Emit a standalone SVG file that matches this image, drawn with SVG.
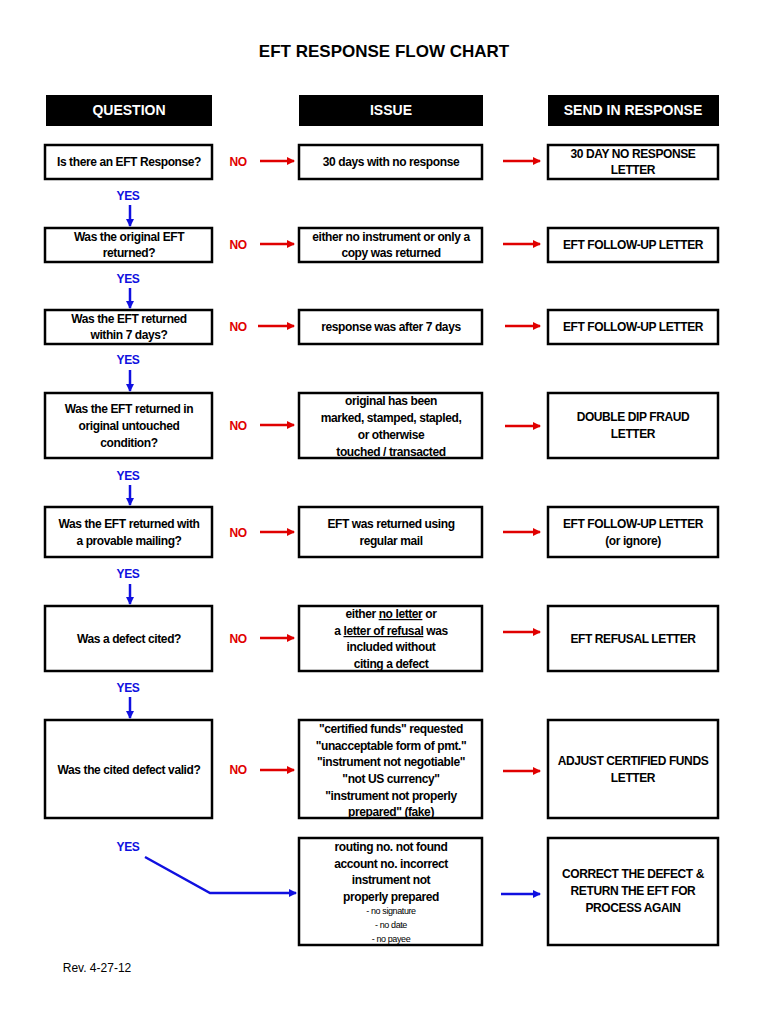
<svg xmlns="http://www.w3.org/2000/svg" width="768" height="1024" viewBox="0 0 768 1024">
<style>
text{font-family:"Liberation Sans",Arial,sans-serif;font-weight:bold;font-size:12px;text-anchor:middle;letter-spacing:-0.4px}
.box{fill:#fff;stroke:#000;stroke-width:2.5}
.hd{fill:#000}
.ht{fill:#fff;font-size:14px;letter-spacing:0}
.no{fill:#e00000}
.yes{fill:#1010e0}
.r{stroke:#e00000;stroke-width:2.5;fill:none;marker-end:url(#ar)}
.b{stroke:#1010e0;stroke-width:2.5;fill:none;marker-end:url(#ab)}
.sm{font-size:9px;font-weight:normal}
</style>
<defs>
<marker id="ar" markerWidth="8" markerHeight="8" refX="7" refY="4" orient="auto" markerUnits="userSpaceOnUse" viewBox="0 0 8 8"><path d="M0,0 L8,4 L0,8 z" fill="#e00000"/></marker>
<marker id="ab" markerWidth="8" markerHeight="8" refX="7" refY="4" orient="auto" markerUnits="userSpaceOnUse" viewBox="0 0 8 8"><path d="M0,0 L8,4 L0,8 z" fill="#1010e0"/></marker>
</defs>
<text x="384" y="57" style="font-size:17px;letter-spacing:0">EFT RESPONSE FLOW CHART</text>
<g id="headers">
<rect class="hd" x="46" y="95" width="166" height="31"/><text class="ht" x="129" y="115">QUESTION</text>
<rect class="hd" x="299" y="95" width="184" height="31"/><text class="ht" x="391" y="115">ISSUE</text>
<rect class="hd" x="548" y="95" width="171" height="31"/><text class="ht" x="633" y="115">SEND IN RESPONSE</text>
</g>
<g id="q1"><rect class="box" x="45" y="145" width="167" height="34"/><text x="129" y="166">Is there an EFT Response?</text></g>
<g id="i1"><rect class="box" x="299" y="145" width="183" height="34"/><text x="391" y="166">30 days  with no response</text></g>
<g id="s1"><rect class="box" x="548" y="145" width="170" height="34"/><text x="633" y="158">30 DAY NO RESPONSE</text><text x="633" y="174">LETTER</text></g>
<g id="q2"><rect class="box" x="45" y="228" width="167" height="34"/><text x="129" y="241">Was the original EFT</text><text x="129" y="257">returned?</text></g>
<g id="i2"><rect class="box" x="299" y="228" width="183" height="34"/><text x="391" y="241">either no instrument or only a</text><text x="391" y="257">copy was returned</text></g>
<g id="s2"><rect class="box" x="548" y="228" width="170" height="34"/><text x="633" y="249">EFT FOLLOW-UP LETTER</text></g>
<g id="q3"><rect class="box" x="45" y="310" width="167" height="34"/><text x="129" y="323">Was the EFT returned</text><text x="129" y="339">within 7 days?</text></g>
<g id="i3"><rect class="box" x="299" y="310" width="183" height="34"/><text x="391" y="331">response was after 7 days</text></g>
<g id="s3"><rect class="box" x="548" y="310" width="170" height="34"/><text x="633" y="331">EFT FOLLOW-UP LETTER</text></g>
<g id="q4"><rect class="box" x="45" y="393" width="167" height="65"/><text x="129" y="413">Was the EFT returned in</text><text x="129" y="430">original untouched</text><text x="129" y="447">condition?</text></g>
<g id="i4"><rect class="box" x="299" y="393" width="183" height="65"/><text x="391" y="405">original has been</text><text x="391" y="422">marked, stamped, stapled,</text><text x="391" y="439">or otherwise</text><text x="391" y="456">touched / transacted</text></g>
<g id="s4"><rect class="box" x="548" y="393" width="170" height="65"/><text x="633" y="421">DOUBLE DIP FRAUD</text><text x="633" y="438">LETTER</text></g>
<g id="q5"><rect class="box" x="45" y="507" width="167" height="50"/><text x="129" y="528">Was the EFT returned with</text><text x="129" y="545">a provable mailing?</text></g>
<g id="i5"><rect class="box" x="299" y="507" width="183" height="50"/><text x="391" y="528">EFT was returned using</text><text x="391" y="545">regular mail</text></g>
<g id="s5"><rect class="box" x="548" y="507" width="170" height="50"/><text x="633" y="528">EFT FOLLOW-UP LETTER</text><text x="633" y="545">(or ignore)</text></g>
<g id="q6"><rect class="box" x="45" y="606" width="167" height="65"/><text x="129" y="643">Was a defect cited?</text></g>
<g id="i6"><rect class="box" x="299" y="606" width="183" height="65"/><text x="391" y="618">either <tspan text-decoration="underline">no letter</tspan> or</text><text x="391" y="635">a <tspan text-decoration="underline">letter of refusal</tspan> was</text><text x="391" y="651">included without</text><text x="391" y="668">citing a defect</text></g>
<g id="s6"><rect class="box" x="548" y="606" width="170" height="65"/><text x="633" y="643">EFT REFUSAL LETTER</text></g>
<g id="q7"><rect class="box" x="45" y="720" width="167" height="98"/><text x="129" y="774">Was the cited defect valid?</text></g>
<g id="i7"><rect class="box" x="299" y="720" width="183" height="98"/><text x="391" y="733">"certified funds" requested</text><text x="391" y="750">"unacceptable form of pmt."</text><text x="391" y="766">"instrument not negotiable"</text><text x="391" y="783">"not US currency"</text><text x="391" y="800">"instrument not properly</text><text x="391" y="816">prepared" (fake)</text></g>
<g id="s7"><rect class="box" x="548" y="720" width="170" height="98"/><text x="633" y="765">ADJUST CERTIFIED FUNDS</text><text x="633" y="782">LETTER</text></g>
<g id="i8"><rect class="box" x="299" y="838" width="183" height="107"/><text x="391" y="851">routing no. not found</text><text x="391" y="868">account no. incorrect</text><text x="391" y="884">instrument not</text><text x="391" y="901">properly prepared</text><text class="sm" x="391" y="914">- no signature</text><text class="sm" x="391" y="928">- no date</text><text class="sm" x="391" y="942">- no payee</text></g>
<g id="s8"><rect class="box" x="548" y="838" width="170" height="107"/><text x="633" y="878">CORRECT THE DEFECT &amp;</text><text x="633" y="895">RETURN THE EFT FOR</text><text x="633" y="912">PROCESS AGAIN</text></g>
<g id="connectors">
<g class="no"><text x="238" y="166">NO</text><text x="238" y="249">NO</text><text x="238" y="331">NO</text><text x="238" y="430">NO</text><text x="238" y="537">NO</text><text x="238" y="643">NO</text><text x="238" y="774">NO</text></g>
<g class="yes"><text x="128" y="200">YES</text><text x="128" y="283">YES</text><text x="128" y="364">YES</text><text x="128" y="480">YES</text><text x="128" y="578">YES</text><text x="128" y="692">YES</text><text x="128" y="851">YES</text></g>
<path class="r" d="M260,161H294"/><path class="r" d="M503,161H540"/>
<path class="r" d="M260,244H294"/><path class="r" d="M503,244H540"/>
<path class="r" d="M258,326H294"/><path class="r" d="M505,326H540"/>
<path class="r" d="M260,425H294"/><path class="r" d="M505,426H540"/>
<path class="r" d="M260,532H294"/><path class="r" d="M503,532H540"/>
<path class="r" d="M260,638H294"/><path class="r" d="M503,632H540"/>
<path class="r" d="M260,770H294"/><path class="r" d="M503,771H540"/>
<path class="b" d="M130,205V226"/><path class="b" d="M130,288V308"/><path class="b" d="M130,370V391"/><path class="b" d="M130,485V505"/><path class="b" d="M130,584V604"/><path class="b" d="M130,697V718"/>
<path class="b" d="M145,857L210,893H296"/><path class="b" d="M501,894H540"/>
</g>
<text x="97" y="972" style="font-weight:normal;font-size:12px;letter-spacing:0">Rev. 4-27-12</text>
</svg>
